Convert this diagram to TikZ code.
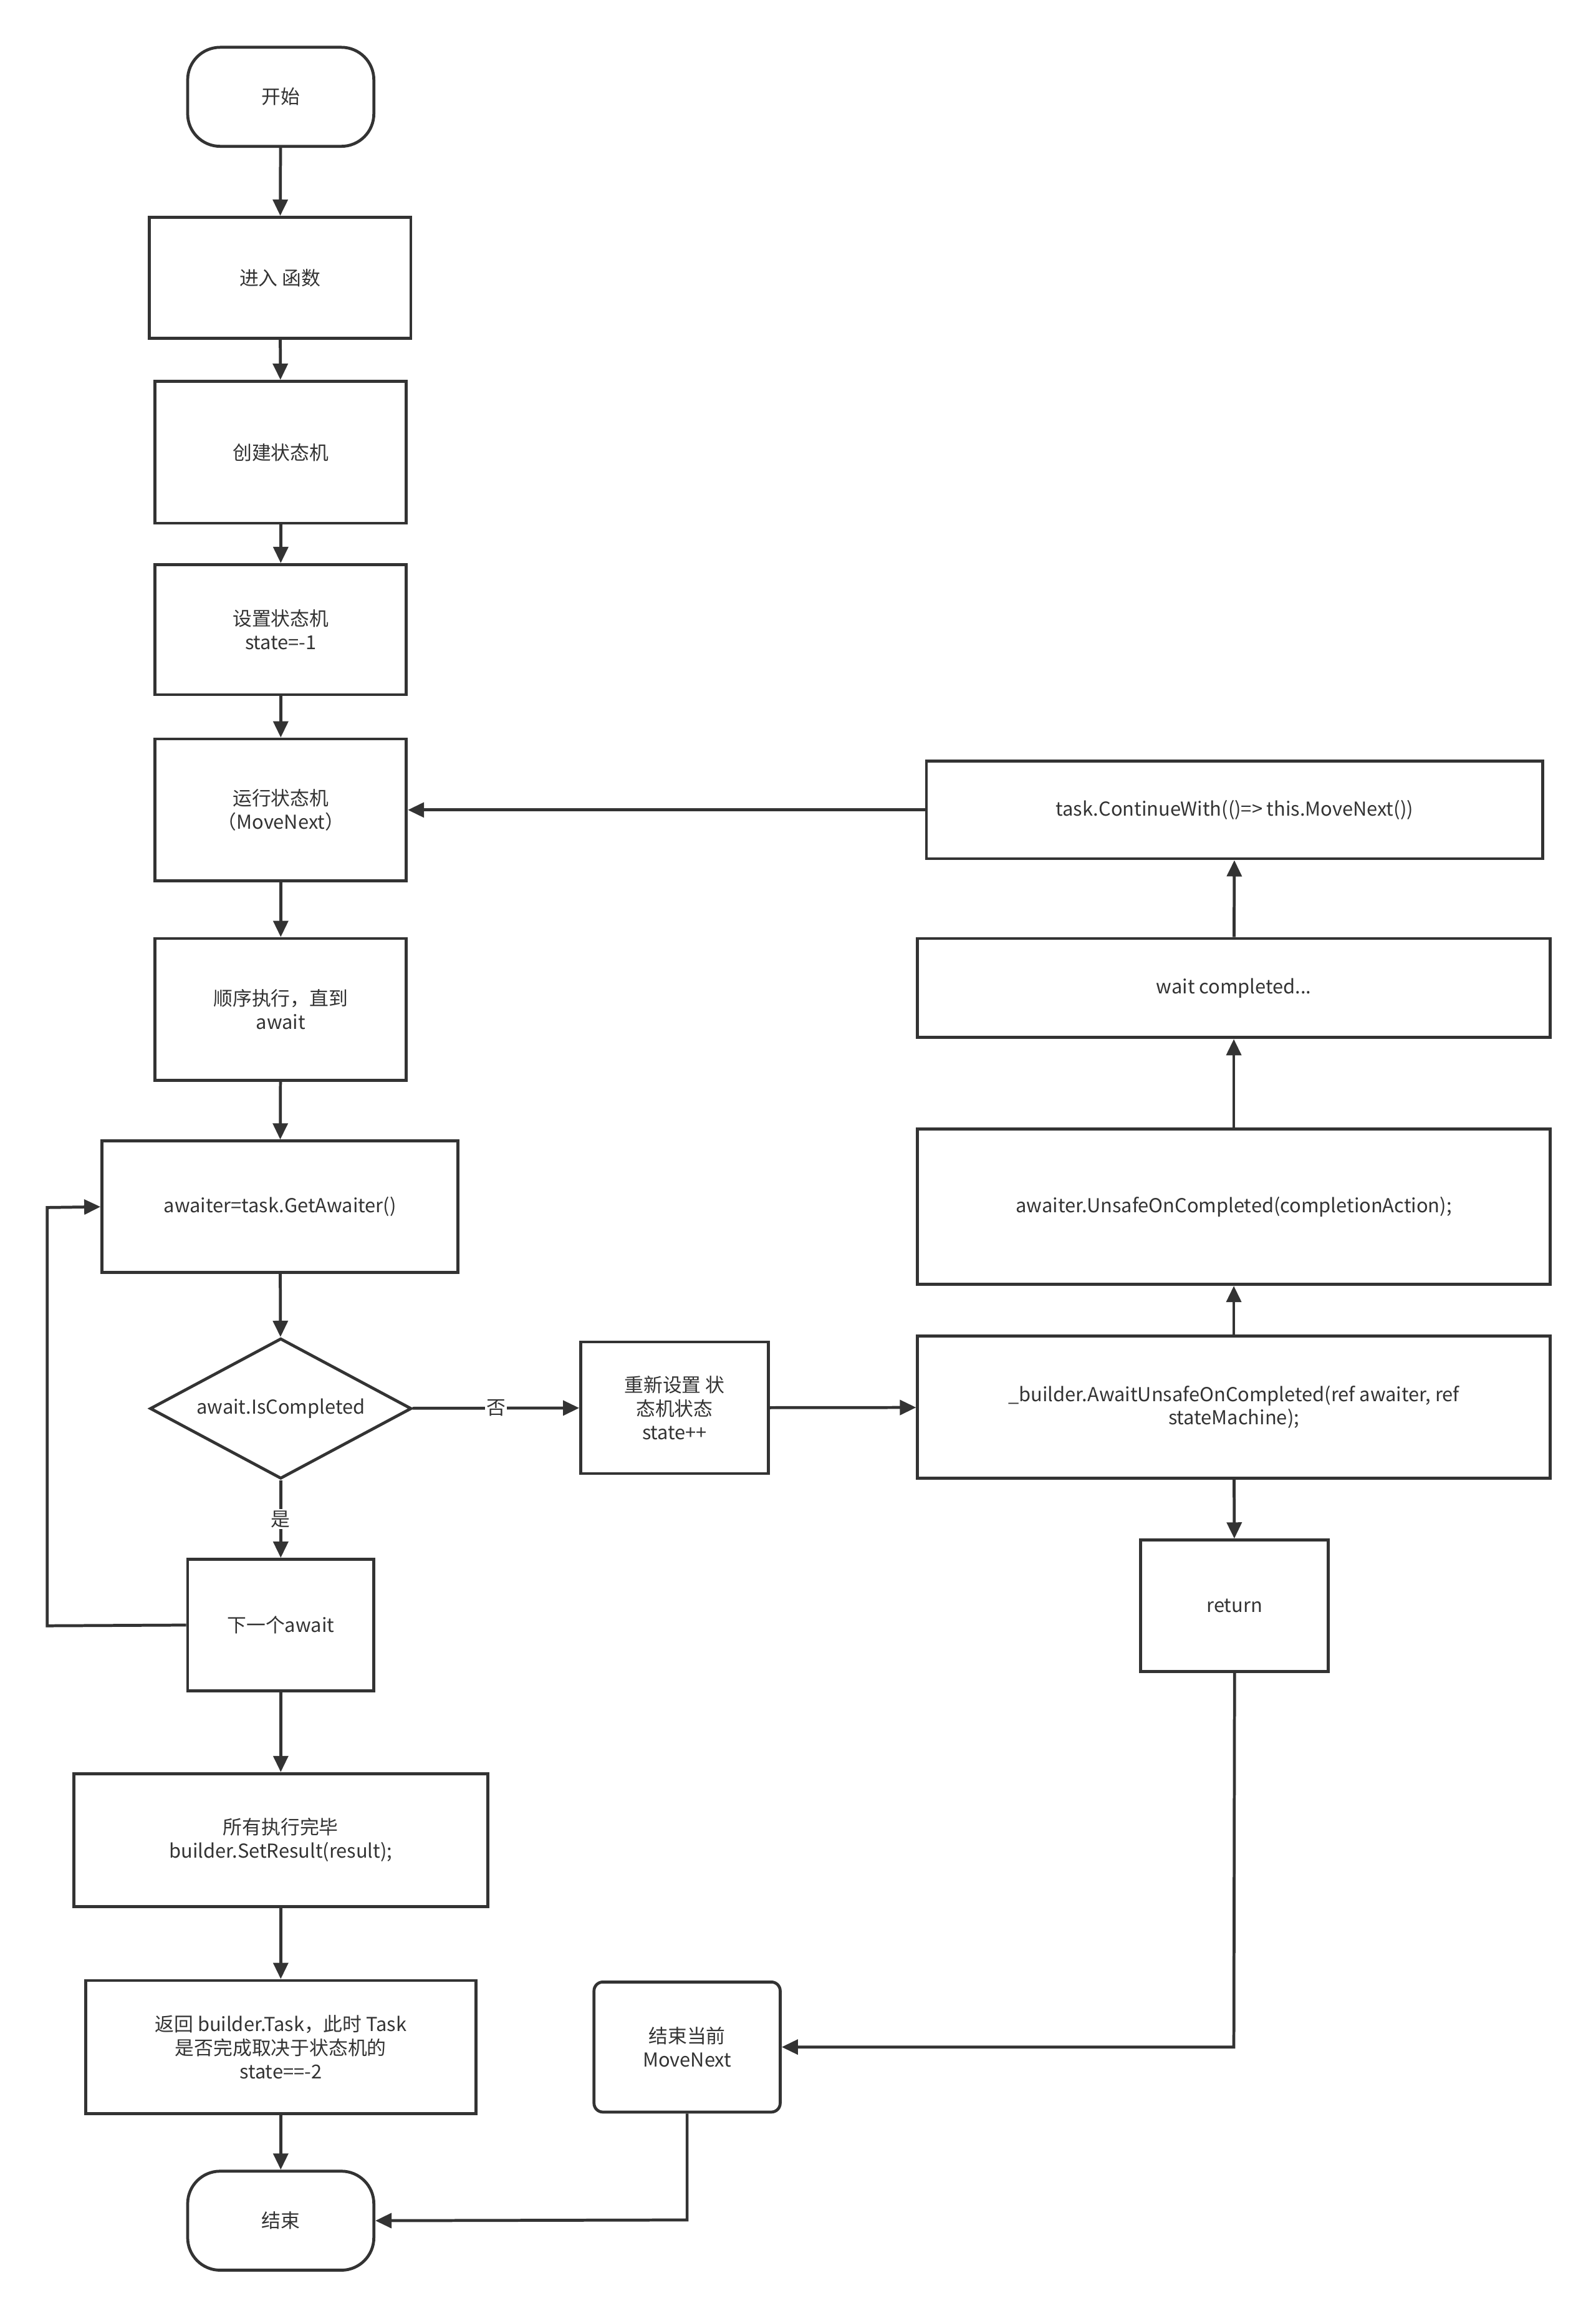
\documentclass[tikz,border=0pt]{standalone}
\usepackage{fontspec}
\setmainfont{Noto Sans CJK SC}
\usetikzlibrary{arrows.meta,shapes.geometric}
\definecolor{ln}{HTML}{333333}
\begin{document}
\begin{tikzpicture}[x=1pt,y=-1pt,
  every node/.style={font=\fontsize{13}{16}\selectfont,text=ln,align=center},
  bx/.style={draw=ln,line width=2pt,fill=white},
  ar/.style={draw=ln,line width=2pt,-{Triangle[length=11pt,width=10pt]}}]
\fill[white] (0,0) rectangle (1080,1567);
\newcommand{\bxat}[5]{\node[bx,minimum width=#3-#2,minimum height=#5-#4,inner sep=0pt] (#1) at ({(#2+#3)/2},{(#4+#5)/2})}
\bxat{s}{127}{253}{32}{99}[rounded corners=22pt]{开始};
\bxat{a}{101}{278}{147}{229}{进入 函数};
\bxat{b}{105}{275}{258}{354}{创建状态机};
\bxat{c}{105}{275}{382}{470}{设置状态机\\state=-1};
\bxat{d}{105}{275}{500}{596}{运行状态机\\（MoveNext）};
\bxat{e}{105}{275}{635}{731}{顺序执行，直到\\await};
\bxat{f}{69}{310}{772}{861}{awaiter=task.GetAwaiter()};
\node[draw=ln,line width=2pt,diamond,aspect=1.86,minimum width=177,minimum height=95,inner sep=0pt] (g) at (190,953) {await.IsCompleted};
\bxat{h}{127}{253}{1055}{1144}{下一个await};
\bxat{i}{50}{330}{1200}{1290}{所有执行完毕\\builder.SetResult(result);};
\bxat{j}{58}{322}{1340}{1430}{返回 builder.Task，此时 Task\\是否完成取决于状态机的\\state==-2};
\bxat{k}{127}{253}{1469}{1536}[rounded corners=22pt]{结束};
\bxat{r}{393}{520}{908}{997}{重新设置 状\\态机状态\\state++};
\bxat{u}{621}{1049}{904}{1000}{\_builder.AwaitUnsafeOnCompleted(ref awaiter, ref\\stateMachine);};
\bxat{ret}{772}{899}{1042}{1131}{return};
\bxat{m}{402}{528}{1341}{1429}[rounded corners=6pt]{结束当前\\MoveNext};
\bxat{v}{621}{1049}{764}{869}{awaiter.UnsafeOnCompleted(completionAction);};
\bxat{w}{621}{1049}{635}{702}{wait completed...};
\bxat{t}{627}{1044}{515}{581}{task.ContinueWith(()=> this.MoveNext())};
\foreach \p/\q in {s/a,a/b,b/c,c/d,d/e,e/f,f/g,h/i,i/j,j/k,u/ret,u/v,v/w,w/t}
  \draw[ar] (\p) -- (\q);
\draw[ar] (g) -- node[fill=white,inner sep=1pt]{是} (h);
\draw[ar] (g) -- node[fill=white,inner sep=1pt,pos=0.5]{否} (r);
\draw[ar] (r) -- (u);
\draw[ar] (t) -- (d);
\draw[ar] (h.west) -- (32,1100) -- (32,817) -- (f.west);
\draw[ar] (ret.south) -- (835,1385) -- (m.east);
\draw[ar] (m.south) -- (465,1502) -- (k.east);
\end{tikzpicture}
\end{document}
